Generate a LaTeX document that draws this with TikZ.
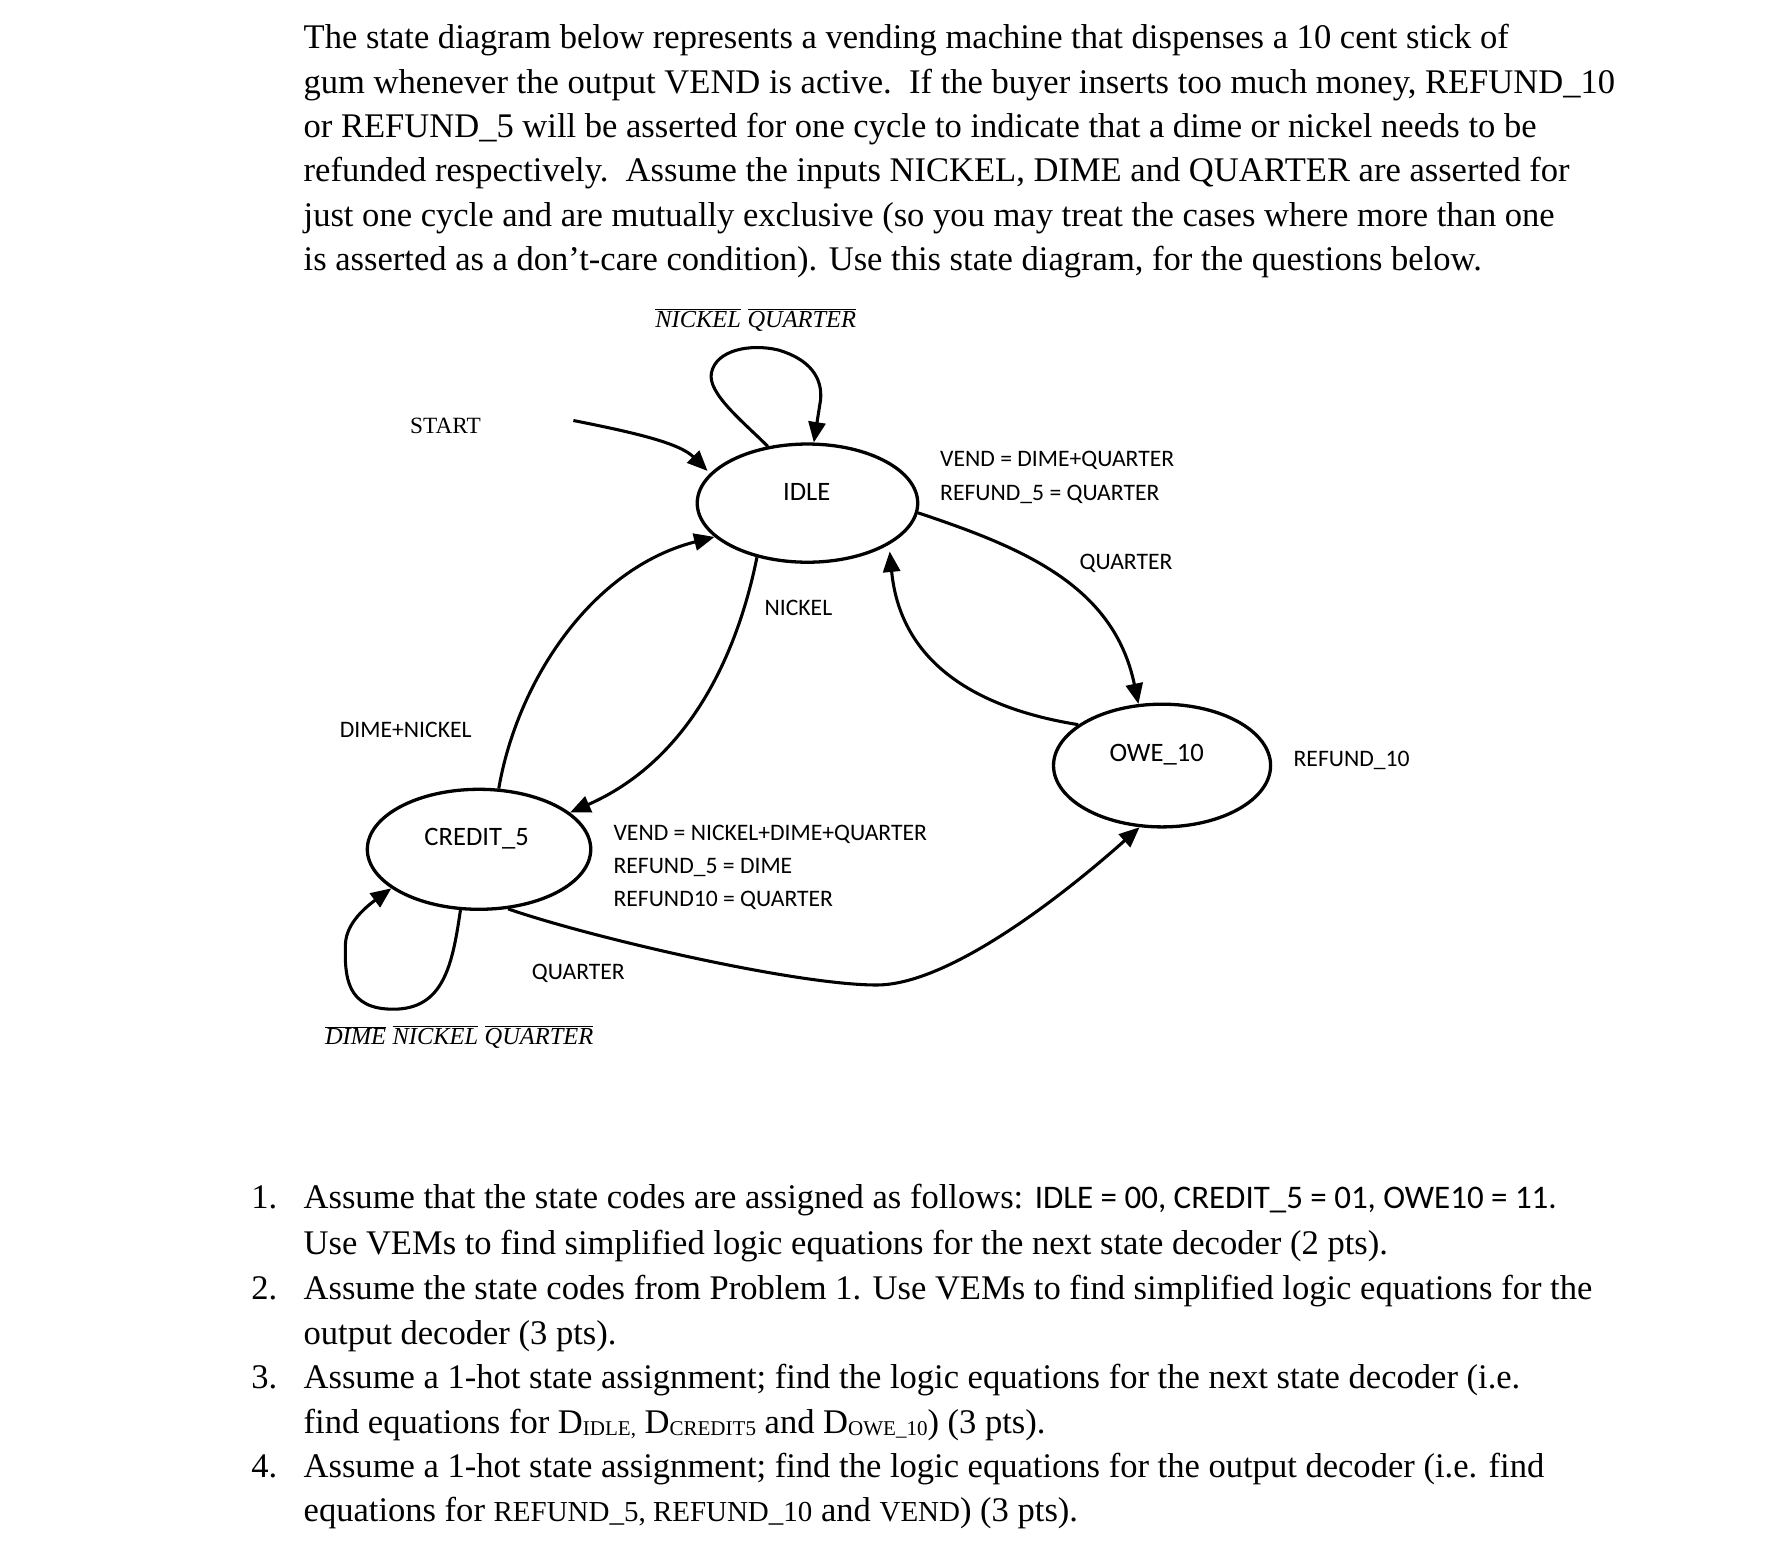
\documentclass[tikz,border=0pt]{standalone}
\usepackage{fontspec}
\setmainfont{Liberation Serif}
\newfontfamily\calib{Carlito}
\usetikzlibrary{arrows.meta,shapes.geometric}
\newcommand{\sbx}[1]{\raisebox{-2.5pt}{\fontsize{18.5}{22}\selectfont #1}}
\newcommand{\ovl}[1]{\overline{\mbox{\itshape #1}}}
\begin{document}
\begin{tikzpicture}[x=1pt,y=-1pt,
  state/.style={ellipse, draw, line width=2.9pt, inner sep=0pt},
  stxt/.style={font=\calib\fontsize{23.4}{28}\selectfont, anchor=base, inner sep=0pt},
  lbl/.style={font=\calib\fontsize{20.8}{25}\selectfont, inner sep=0pt},
  ovlbl/.style={font=\fontsize{21.5}{25}\selectfont, anchor=base, inner sep=0pt},
  para/.style={font=\fontsize{30.4}{36}\selectfont, anchor=base west, inner sep=0pt},
  arr/.style={line width=2.7pt, -{Triangle[length=18pt,width=15pt]}}
]
\useasboundingbox (0,0) rectangle (1568,1374);

% ---- top paragraph ----
\node[para] (p1) at (267,43) {The state diagram below represents a vending machine that dispenses a 10 cent stick of};
\node[para] (p2) at (267,82) {gum whenever the output VEND is active.\ \ If the buyer inserts too much money, REFUND\_10};
\node[para] (p3) at (267,121) {or REFUND\_5 will be asserted for one cycle to indicate that a dime or nickel needs to be};
\node[para] (p4) at (267,160) {refunded respectively.\ \ Assume the inputs NICKEL, DIME and QUARTER are asserted for};
\node[para] (p5) at (267,199) {just one cycle and are mutually exclusive (so you may treat the cases where more than one};
\node[para] (p6) at (267,238) {is asserted as a don’t-care condition). Use this state diagram, for the questions below.};

% ---- states ----
\node[state, minimum width=194pt, minimum height=104pt] (idle) at (710.5,442.7) {};
\node[stxt] (idletxt) at (709.8,440.1) {IDLE};
\node[state, minimum width=196.6pt, minimum height=105.6pt] (credit) at (421.5,747.3) {};
\node[stxt] (credittxt) at (419.4,744.3) {CREDIT\_5};
\node[state, minimum width=191pt, minimum height=108pt] (owe) at (1022.5,673.6) {};
\node[stxt] (owetxt) at (1017.8,669.8) {OWE\_10};

% ---- labels ----
\node[font=\fontsize{20.5}{24}\selectfont, inner sep=0pt, anchor=base] (start) at (392,381) {START};
\node[ovlbl] (idleloop) at (665,288) {$\ovl{NICKEL}\;\ovl{QUARTER}$};
\node[ovlbl] (creditloop) at (404,919) {$\ovl{DIME}\;\ovl{NICKEL}\;\ovl{QUARTER}$};
\node[lbl, anchor=base west] (io1) at (827.1,410.9) {VEND = DIME+QUARTER};
\node[lbl, anchor=base west] (io2) at (827.1,440.8) {REFUND\_5 = QUARTER};
\node[lbl, anchor=base west] (co1) at (539.7,739.4) {VEND = NICKEL+DIME+QUARTER};
\node[lbl, anchor=base west] (co2) at (539.7,768.7) {REFUND\_5 = DIME};
\node[lbl, anchor=base west] (co3) at (539.7,798) {REFUND10 = QUARTER};
\node[lbl, anchor=base] (oo1) at (1189.3,674) {REFUND\_10};
\node[lbl, anchor=base] (lq1) at (990.8,500.9) {QUARTER};
\node[lbl, anchor=base] (lnk) at (702.5,542) {NICKEL};
\node[lbl, anchor=base] (ldn) at (357,648.7) {DIME+NICKEL};
\node[lbl, anchor=base] (lq2) at (508.9,861.7) {QUARTER};

% ---- connectors ----
\coordinate (s0) at (504.5,370);
\draw[arr, shorten >=3pt] (s0) .. controls (560,381) and (598,390) .. (idle.163);
\draw[arr] (idle.125) .. controls (655,372) and (622,346) .. (626,328)
  .. controls (630,308) and (660,302) .. (685,308)
  .. controls (712,316) and (724,332) .. (722,352) -- (idle.84);
\draw[arr] (idle.-5) .. controls (900,482) and (980,515) .. (owe.111);
\draw[arr, shorten >=6pt] (owe.154) .. controls (870,625) and (793,590) .. (idle.-27);
\draw[arr] (idle.227) .. controls (652,560) and (615,665) .. (credit.22);
\draw[arr] (credit.72) .. controls (455,600) and (520,500) .. (idle.200);
\draw[arr] (credit.-64) .. controls (520,825) and (700,866.7) .. (771.4,866.7)
  .. controls (840,866.7) and (950,775) .. (owe.250);
\draw[arr] (credit.253) .. controls (398,850) and (390,888) .. (346,888)
  .. controls (305,888) and (303,860) .. (304,830)
  .. controls (305,812) and (322,798) .. (credit.204);

% ---- questions ----
\node[para] (n1) at (221,1063) {1.};
\node[para] (q1a) at (267,1063) {Assume that the state codes are assigned as follows: {\calib\fontsize{29}{36}\selectfont IDLE = 00, CREDIT\_5 = 01, OWE10 = 11.}};
\node[para] (q1b) at (267,1104) {Use VEMs to find simplified logic equations for the next state decoder (2 pts).};
\node[para] (n2) at (221,1143) {2.};
\node[para] (q2a) at (267,1143) {Assume the state codes from Problem 1. Use VEMs to find simplified logic equations for the};
\node[para] (q2b) at (267,1183) {output decoder (3 pts).};
\node[para] (n3) at (221,1222) {3.};
\node[para] (q3a) at (267,1222) {Assume a 1-hot state assignment; find the logic equations for the next state decoder (i.e.};
\node[para] (q3b) at (267,1261) {find equations for D\sbx{IDLE,} D\sbx{CREDIT5} and D\sbx{OWE\_10}) (3 pts).};
\node[para] (n4) at (221,1300) {4.};
\node[para] (q4a) at (267,1300) {Assume a 1-hot state assignment; find the logic equations for the output decoder (i.e. find};
\node[para] (q4b) at (267,1339) {equations for {\fontsize{25.5}{30}\selectfont REFUND\_5, REFUND\_10} and {\fontsize{25.5}{30}\selectfont VEND}) (3 pts).};
\end{tikzpicture}
\end{document}
